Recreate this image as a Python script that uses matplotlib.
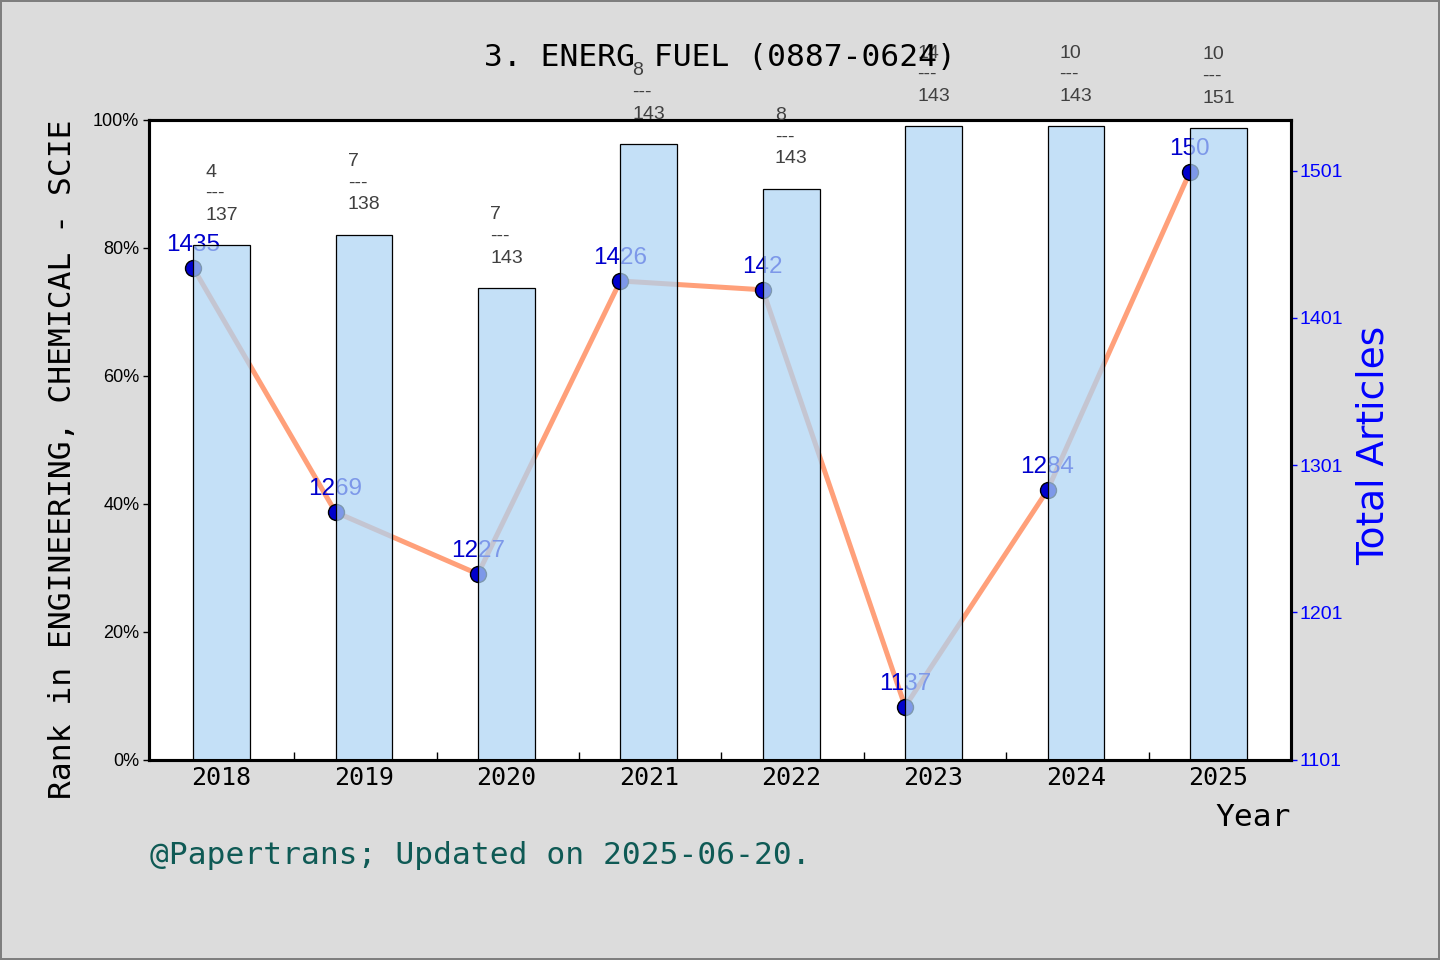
import numpy as np
import matplotlib
matplotlib.use("Agg")
import matplotlib.pyplot as plt

years = ["2018", "2019", "2020", "2021", "2022", "2023", "2024", "2025"]
rank_pct = [80.4, 82.0, 73.7, 96.2, 89.2, 99.0, 99.0, 98.7]
ranks = [4, 7, 7, 8, 8, 14, 10, 10]
totals = [137, 138, 143, 143, 143, 143, 143, 151]
articles = [1435, 1269, 1227, 1426, 1420, 1137, 1284, 1500]
article_labels = ["1435", "1269", "1227", "1426", "142", "1137", "1284", "150"]
right_ticks = [1101, 1201, 1301, 1401, 1501]
left_ticks = [0, 20, 40, 60, 80, 100]

title = "3. ENERG FUEL (0887-0624)"
ylabel = "Rank in ENGINEERING, CHEMICAL - SCIE"
footer = "@Papertrans; Updated on 2025-06-20."

MONO = "DejaVu Sans Mono"
SANS = "Liberation Sans"

fig = plt.figure(figsize=(14.4, 9.6), dpi=100, facecolor="#DCDCDC")
ax = fig.add_axes([149/1440, 1-760/960, (1291-149)/1440, (760-120)/960])
ax2 = ax.twinx()

# line axis behind, bar axis on top
ax2.set_zorder(0)
ax.set_zorder(1)
ax.patch.set_visible(False)
ax2.patch.set_visible(True)
ax2.patch.set_facecolor("white")

x = np.arange(len(years))

ax.bar(x, rank_pct, width=0.4, align="edge",
       facecolor=(174/255, 212/255, 244/255, 0.72), edgecolor="black", linewidth=0.9, zorder=2)

ax2.plot(x, articles, color="#FFA07A", linewidth=3.6, zorder=2,
         marker="o", markersize=11.5, markerfacecolor="#0000CD",
         markeredgecolor="black", markeredgewidth=1.0)
for xi, v, lab in zip(x, articles, article_labels):
    ax2.annotate(lab, (xi, v), xytext=(0, 12), textcoords="offset points",
                 ha="center", va="baseline", color="#0000CD",
                 fontsize=17.5, family=SANS, zorder=3)

for xi, p, r, t in zip(x, rank_pct, ranks, totals):
    ax.text(xi + 0.2, p + 3.4, f"{r}\n---\n{t}", ha="center", va="bottom",
            multialignment="left", color="#404040", fontsize=14, family=SANS,
            clip_on=False, linespacing=1.35, zorder=4)

ax.set_xlim(-0.31, 7.71)
ax.set_ylim(0, 100)
ax2.set_ylim(1100.7, 1535.3)

ax.set_xticks(x + 0.2)
ax.set_xticklabels(years, family=MONO, fontsize=18)
ax.tick_params(axis="x", which="major", length=0, pad=4)
ax.set_xticks(x[:-1] + 0.71, minor=True)
ax.tick_params(axis="x", which="minor", direction="in", length=6, width=1)

ax.set_yticks(left_ticks)
ax.set_yticklabels([f"{v}%" for v in left_ticks], family=SANS, fontsize=13)
ax.tick_params(axis="y", direction="out", length=4, width=1, pad=3)

ax2.set_yticks(right_ticks)
ax2.set_yticklabels([str(v) for v in right_ticks], family=SANS, fontsize=14, color="blue")
ax2.tick_params(axis="y", direction="out", length=4, width=1, colors="blue", pad=2)

for a in (ax, ax2):
    for s in a.spines.values():
        s.set_linewidth(2.2)
        s.set_color("black")

fig.text(720/1440, 1-57/960, title, ha="center", va="center", family=MONO, fontsize=22.5, color="black")
fig.text(63/1440, 1-459/960, ylabel, ha="center", va="center", rotation=90, family=MONO, fontsize=22.5, color="black")
fig.text(1374/1440, 1-445/960, "Total Articles", ha="center", va="center", rotation=90, family="DejaVu Sans", fontsize=27, color="blue")
fig.text(1291/1440, 1-817/960, "Year", ha="right", va="center", family=MONO, fontsize=22.5, color="black")
fig.text(150/1440, 1-855/960, footer, ha="left", va="center", family=MONO, fontsize=22.5, color="#0F5A55")

fig.patch.set_edgecolor("#7F7F7F")
fig.patch.set_linewidth(1.5)

fig.savefig("out.png", dpi=100, facecolor=fig.get_facecolor(), edgecolor=fig.get_edgecolor())
